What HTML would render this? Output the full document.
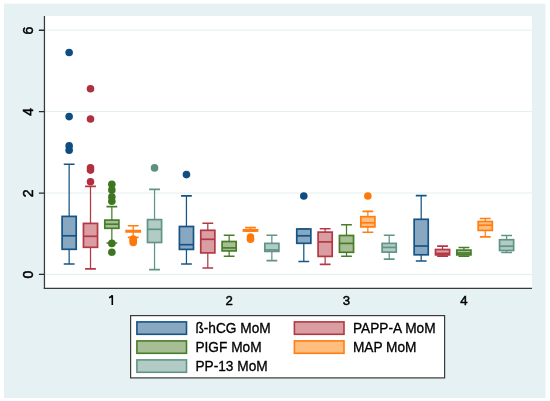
<!DOCTYPE html>
<html><head><meta charset="utf-8"><style>
html,body{margin:0;padding:0;background:#fff;}
body{width:550px;height:401px;overflow:hidden;}
svg{display:block;will-change:transform;}
text{font-family:"Liberation Sans",sans-serif;fill:#000;stroke:#000;stroke-width:0.3px;}
</style></head><body>
<svg width="550" height="401" viewBox="0 0 550 401">
<rect x="4" y="3.7" width="541.5" height="394.3" fill="#E5F1F2"/>
<rect x="44.5" y="16" width="487.5" height="272.3" fill="#fff"/>
<g stroke="#E4EFF1" stroke-width="1">
<path d="M45 30.2H532M45 111.6H532M45 193H532M45 274.4H532"/>
</g>
<g stroke="#3a3a3a" fill="none">
<path d="M44.45 16V288.9" stroke-width="1.25"/>
<path d="M43.8 288.4H532" stroke-width="1.2"/>
<path d="M38.9 30.2H44M38.9 111.6H44M38.9 193.1H44M38.9 274.4H44" stroke-width="1.4" stroke="#2a2a2a"/>
</g>
<g font-size="13.2" text-anchor="middle">
<text font-size="14" style="stroke-width:0.5px" transform="translate(33.1 30.5) rotate(-90)">6</text>
<text font-size="14" style="stroke-width:0.5px" transform="translate(33.1 111.9) rotate(-90)">4</text>
<text font-size="14" style="stroke-width:0.5px" transform="translate(33.1 193.3) rotate(-90)">2</text>
<text font-size="14" style="stroke-width:0.5px" transform="translate(33.1 274.7) rotate(-90)">0</text>
</g><path d="M112.3 295.3V305.1M109.1 297.6Q111.4 297.2 112 295.5" stroke="#000" stroke-width="1.6" fill="none"/><g font-size="13.2" text-anchor="middle">
<text x="229.15" y="304.5" style="stroke-width:0.45px">2</text>
<text x="346.5" y="304.5" style="stroke-width:0.45px">3</text>
<text x="463.9" y="304.5" style="stroke-width:0.45px">4</text>
</g>
<path d="M69.15 164.3V216.4M69.15 249.3V264" stroke="#165487" stroke-width="1.25" fill="none"/><path d="M63.75 164.3H74.55M63.75 264H74.55" stroke="#165487" stroke-width="1.6" fill="none"/><rect x="62.1" y="216.4" width="14.1" height="32.9" fill="#87A8C0" stroke="#165487" stroke-width="1.7"/><path d="M62.1 235.8H76.2" stroke="#165487" stroke-width="1.7"/><circle cx="69.15" cy="52.5" r="3.8" fill="#0F4C80"/><circle cx="69.15" cy="116.6" r="3.8" fill="#0F4C80"/><circle cx="69.15" cy="145.9" r="3.8" fill="#0F4C80"/><circle cx="69.15" cy="150.3" r="3.8" fill="#0F4C80"/>
<path d="M90.5 186.4V223.4M90.5 247.3V268.9" stroke="#B33845" stroke-width="1.25" fill="none"/><path d="M85.1 186.4H95.9M85.1 268.9H95.9" stroke="#B33845" stroke-width="1.6" fill="none"/><rect x="83.45" y="223.4" width="14.1" height="23.9" fill="#D99DA2" stroke="#B33845" stroke-width="1.7"/><path d="M83.45 236.3H97.55" stroke="#B33845" stroke-width="1.7"/><circle cx="90.5" cy="88.8" r="3.8" fill="#B0303F"/><circle cx="90.5" cy="119" r="3.8" fill="#B0303F"/><circle cx="90.5" cy="167.8" r="3.8" fill="#B0303F"/><circle cx="90.5" cy="170.1" r="3.8" fill="#B0303F"/><circle cx="90.5" cy="181.7" r="3.8" fill="#B0303F"/>
<path d="M111.85 206.6V220.1M111.85 228.3V243" stroke="#477D2A" stroke-width="1.25" fill="none"/><path d="M106.45 206.6H117.25M106.45 243H117.25" stroke="#477D2A" stroke-width="1.6" fill="none"/><rect x="104.8" y="220.1" width="14.1" height="8.2" fill="#A7BE94" stroke="#477D2A" stroke-width="1.7"/><path d="M104.8 224.2H118.9" stroke="#477D2A" stroke-width="1.7"/><circle cx="111.85" cy="184.2" r="3.8" fill="#3E7620"/><circle cx="111.85" cy="189.9" r="3.8" fill="#3E7620"/><circle cx="111.85" cy="196.7" r="3.8" fill="#3E7620"/><circle cx="111.85" cy="201.3" r="3.8" fill="#3E7620"/><circle cx="111.85" cy="243.4" r="3.8" fill="#3E7620"/><circle cx="111.85" cy="252.2" r="3.8" fill="#3E7620"/>
<path d="M133.2 225.8V230.6M133.2 231.9V237.4" stroke="#FF7D12" stroke-width="1.25" fill="none"/><path d="M127.8 225.8H138.6M127.8 237.4H138.6" stroke="#FF7D12" stroke-width="1.6" fill="none"/><rect x="126.15" y="230.6" width="14.1" height="1.3" fill="#FFBE7D" stroke="#FF7D12" stroke-width="1.7"/><path d="M126.15 231.2H140.25" stroke="#FF7D12" stroke-width="1.7"/><circle cx="133.2" cy="239" r="3.8" fill="#FF780A"/><circle cx="133.2" cy="240.5" r="3.8" fill="#FF780A"/><circle cx="133.2" cy="242.5" r="3.8" fill="#FF780A"/>
<path d="M154.55 189.4V219.6M154.55 242.5V269.6" stroke="#5F9487" stroke-width="1.25" fill="none"/><path d="M149.15 189.4H159.95M149.15 269.6H159.95" stroke="#5F9487" stroke-width="1.6" fill="none"/><rect x="147.5" y="219.6" width="14.1" height="22.9" fill="#B2CBC4" stroke="#5F9487" stroke-width="1.7"/><path d="M147.5 229.3H161.6" stroke="#5F9487" stroke-width="1.7"/><circle cx="154.55" cy="167.9" r="3.8" fill="#5A9182"/>
<path d="M186.45 195.9V226.5M186.45 249.4V264" stroke="#165487" stroke-width="1.25" fill="none"/><path d="M181.05 195.9H191.85M181.05 264H191.85" stroke="#165487" stroke-width="1.6" fill="none"/><rect x="179.4" y="226.5" width="14.1" height="22.9" fill="#87A8C0" stroke="#165487" stroke-width="1.7"/><path d="M179.4 244.7H193.5" stroke="#165487" stroke-width="1.7"/><circle cx="186.45" cy="174.6" r="3.8" fill="#0F4C80"/>
<path d="M207.8 223.3V230.3M207.8 252.9V268" stroke="#B33845" stroke-width="1.25" fill="none"/><path d="M202.4 223.3H213.2M202.4 268H213.2" stroke="#B33845" stroke-width="1.6" fill="none"/><rect x="200.75" y="230.3" width="14.1" height="22.6" fill="#D99DA2" stroke="#B33845" stroke-width="1.7"/><path d="M200.75 239.3H214.85" stroke="#B33845" stroke-width="1.7"/>
<path d="M229.15 235.3V241.5M229.15 250.9V256.2" stroke="#477D2A" stroke-width="1.25" fill="none"/><path d="M223.75 235.3H234.55M223.75 256.2H234.55" stroke="#477D2A" stroke-width="1.6" fill="none"/><rect x="222.1" y="241.5" width="14.1" height="9.4" fill="#A7BE94" stroke="#477D2A" stroke-width="1.7"/><path d="M222.1 247.9H236.2" stroke="#477D2A" stroke-width="1.7"/>
<path d="M250.5 227.6V229.8M250.5 231V231" stroke="#FF7D12" stroke-width="1.25" fill="none"/><path d="M245.1 227.6H255.9M245.1 231H255.9" stroke="#FF7D12" stroke-width="1.6" fill="none"/><rect x="243.45" y="229.8" width="14.1" height="1.2" fill="#FFBE7D" stroke="#FF7D12" stroke-width="1.7"/><path d="M243.45 230.4H257.55" stroke="#FF7D12" stroke-width="1.7"/><circle cx="250.5" cy="237" r="3.8" fill="#FF780A"/><circle cx="250.5" cy="239.3" r="3.8" fill="#FF780A"/>
<path d="M271.85 235.3V243.4M271.85 251.4V260.6" stroke="#5F9487" stroke-width="1.25" fill="none"/><path d="M266.45 235.3H277.25M266.45 260.6H277.25" stroke="#5F9487" stroke-width="1.6" fill="none"/><rect x="264.8" y="243.4" width="14.1" height="8" fill="#B2CBC4" stroke="#5F9487" stroke-width="1.7"/><path d="M264.8 249.9H278.9" stroke="#5F9487" stroke-width="1.7"/>
<path d="M303.8 229V229M303.8 243.3V261.5" stroke="#165487" stroke-width="1.25" fill="none"/><path d="M298.4 229H309.2M298.4 261.5H309.2" stroke="#165487" stroke-width="1.6" fill="none"/><rect x="296.75" y="229" width="14.1" height="14.3" fill="#87A8C0" stroke="#165487" stroke-width="1.7"/><path d="M296.75 235.8H310.85" stroke="#165487" stroke-width="1.7"/><circle cx="303.8" cy="196" r="3.8" fill="#0F4C80"/>
<path d="M325.15 228.7V232.1M325.15 256.4V264.4" stroke="#B33845" stroke-width="1.25" fill="none"/><path d="M319.75 228.7H330.55M319.75 264.4H330.55" stroke="#B33845" stroke-width="1.6" fill="none"/><rect x="318.1" y="232.1" width="14.1" height="24.3" fill="#D99DA2" stroke="#B33845" stroke-width="1.7"/><path d="M318.1 241.9H332.2" stroke="#B33845" stroke-width="1.7"/>
<path d="M346.5 224.8V235.5M346.5 252.3V256.2" stroke="#477D2A" stroke-width="1.25" fill="none"/><path d="M341.1 224.8H351.9M341.1 256.2H351.9" stroke="#477D2A" stroke-width="1.6" fill="none"/><rect x="339.45" y="235.5" width="14.1" height="16.8" fill="#A7BE94" stroke="#477D2A" stroke-width="1.7"/><path d="M339.45 243.4H353.55" stroke="#477D2A" stroke-width="1.7"/>
<path d="M367.85 211.4V216.7M367.85 226.9V232.2" stroke="#FF7D12" stroke-width="1.25" fill="none"/><path d="M362.45 211.4H373.25M362.45 232.2H373.25" stroke="#FF7D12" stroke-width="1.6" fill="none"/><rect x="360.8" y="216.7" width="14.1" height="10.2" fill="#FFBE7D" stroke="#FF7D12" stroke-width="1.7"/><path d="M360.8 222.8H374.9" stroke="#FF7D12" stroke-width="1.7"/><circle cx="367.85" cy="196" r="3.8" fill="#FF780A"/>
<path d="M389.2 235.3V243.4M389.2 252.1V259.1" stroke="#5F9487" stroke-width="1.25" fill="none"/><path d="M383.8 235.3H394.6M383.8 259.1H394.6" stroke="#5F9487" stroke-width="1.6" fill="none"/><rect x="382.15" y="243.4" width="14.1" height="8.7" fill="#B2CBC4" stroke="#5F9487" stroke-width="1.7"/><path d="M382.15 247.4H396.25" stroke="#5F9487" stroke-width="1.7"/>
<path d="M421.2 195.6V219.3M421.2 254.8V261" stroke="#165487" stroke-width="1.25" fill="none"/><path d="M415.8 195.6H426.6M415.8 261H426.6" stroke="#165487" stroke-width="1.6" fill="none"/><rect x="414.15" y="219.3" width="14.1" height="35.5" fill="#87A8C0" stroke="#165487" stroke-width="1.7"/><path d="M414.15 246H428.25" stroke="#165487" stroke-width="1.7"/>
<path d="M442.55 246.1V249.5M442.55 254.9V256.1" stroke="#B33845" stroke-width="1.25" fill="none"/><path d="M437.15 246.1H447.95M437.15 256.1H447.95" stroke="#B33845" stroke-width="1.6" fill="none"/><rect x="435.5" y="249.5" width="14.1" height="5.4" fill="#D99DA2" stroke="#B33845" stroke-width="1.7"/><path d="M435.5 253.4H449.6" stroke="#B33845" stroke-width="1.7"/>
<path d="M463.9 247.5V250.1M463.9 254.9V256.2" stroke="#477D2A" stroke-width="1.25" fill="none"/><path d="M458.5 247.5H469.3M458.5 256.2H469.3" stroke="#477D2A" stroke-width="1.6" fill="none"/><rect x="456.85" y="250.1" width="14.1" height="4.8" fill="#A7BE94" stroke="#477D2A" stroke-width="1.7"/><path d="M456.85 253H470.95" stroke="#477D2A" stroke-width="1.7"/>
<path d="M485.25 218.5V221.5M485.25 230.4V236.9" stroke="#FF7D12" stroke-width="1.25" fill="none"/><path d="M479.85 218.5H490.65M479.85 236.9H490.65" stroke="#FF7D12" stroke-width="1.6" fill="none"/><rect x="478.2" y="221.5" width="14.1" height="8.9" fill="#FFBE7D" stroke="#FF7D12" stroke-width="1.7"/><path d="M478.2 225.2H492.3" stroke="#FF7D12" stroke-width="1.7"/>
<path d="M506.6 235.5V239.7M506.6 250.5V252.5" stroke="#5F9487" stroke-width="1.25" fill="none"/><path d="M501.2 235.5H512M501.2 252.5H512" stroke="#5F9487" stroke-width="1.6" fill="none"/><rect x="499.55" y="239.7" width="14.1" height="10.8" fill="#B2CBC4" stroke="#5F9487" stroke-width="1.7"/><path d="M499.55 246.2H513.65" stroke="#5F9487" stroke-width="1.7"/>
<rect x="130.6" y="315.6" width="314" height="62.3" fill="#fff" stroke="#3a3a3a" stroke-width="1.2"/>
<g font-size="13.7">
<rect x="136.9" y="321.9" width="49.6" height="12.4" fill="#87A8C0" stroke="#165487" stroke-width="1.6"/>
<text transform="translate(195.4 333.3) scale(1 1.07)">&#223;-hCG MoM</text>
<rect x="294.4" y="321.9" width="49.6" height="12.4" fill="#D99DA2" stroke="#B33845" stroke-width="1.6"/>
<text transform="translate(352.9 333.3) scale(1 1.07)">PAPP-A MoM</text>
<rect x="136.9" y="340.9" width="49.6" height="12.4" fill="#A7BE94" stroke="#477D2A" stroke-width="1.6"/>
<text transform="translate(195.4 352.3) scale(1 1.07)">PIGF MoM</text>
<rect x="294.4" y="340.9" width="49.6" height="12.4" fill="#FFBE7D" stroke="#FF7D12" stroke-width="1.6"/>
<text transform="translate(352.9 352.3) scale(1 1.07)">MAP MoM</text>
<rect x="136.9" y="359.9" width="49.6" height="12.4" fill="#B2CBC4" stroke="#5F9487" stroke-width="1.6"/>
<text transform="translate(195.4 371.3) scale(1 1.07)">PP-13 MoM</text>
</g>
</svg>
</body></html>
